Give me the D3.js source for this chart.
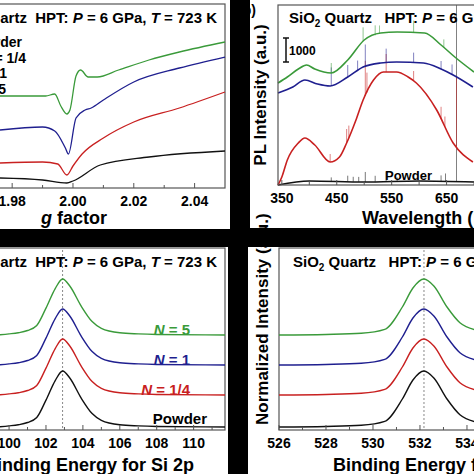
<!DOCTYPE html><html><head><meta charset="utf-8">
<script src="https://cdn.jsdelivr.net/npm/d3@7"></script>
<style>body{margin:0;background:#000}svg{display:block;font-family:"Liberation Sans",Arial,sans-serif;font-weight:bold}</style></head><body>
<svg id="c" width="474" height="474"></svg>
<script>
// ---- Panel (a) EPR ----
const epr_green=[[1.976,92],[1.985,92],[1.991,92],[1.994,94],[1.996,82],[1.998,74],[1.999,78],[2.001,112],[2.0025,118],[2.005,111],[2.008,111],[2.015,118],[2.025,128],[2.035,136],[2.05,146]];
const epr_blue=[[1.976,58],[1.99,61],[1.994,57],[1.9975,40],[1.9985,34],[2.001,70],[2.004,78],[2.006,80],[2.01,88],[2.02,106],[2.035,120],[2.05,131]];
const epr_red=[[1.976,25],[1.99,26],[1.995,24],[1.998,13],[2.0,22],[2.003,34],[2.01,50],[2.02,66],[2.035,80],[2.05,96]];
const epr_black=[[1.976,10],[1.99,8],[1.998,5],[2.0,7],[2.009,23],[2.025,31],[2.05,37]];
const eprTicks=[1.98,2.00,2.02,2.04];
// ---- Panel (b) PL ----
const pl_green=[[343,102],[360,108],[380,116],[395,120],[410,116],[440,112],[470,125],[500,145],[530,152],[560,153],[610,152],[640,140],[665,128],[700,113]];
const pl_blue=[[343,92],[370,98],[392,105],[415,101],[438,99],[470,108],[498,118],[530,122],[559,123],[608,122],[640,116],[662,110],[698,98]];
const pl_red=[[343,0],[350,8],[360,25],[380,42],[392,47],[410,40],[438,23],[455,28],[468,42],[485,65],[498,85],[517,105],[535,113],[559,113],[580,108],[595,102],[632,75],[662,42],[698,23]];
const pl_black=[[343,0],[400,4],[500,3],[600,4],[700,3]];
const pl_spikes_green=[[440,10],[498,14],[520,10],[528,8],[590,12],[645,8]];
const pl_spikes_blue=[[440,18],[470,12],[488,10],[502,22],[540,14],[590,10],[640,8],[660,10]];
const pl_spikes_red=[[438,8],[468,14],[472,12],[502,35],[505,20],[540,18],[590,10],[640,12],[647,10],[668,70]];
const pl_spikes_black=[[440,4],[470,6],[480,5],[490,5],[502,10],[520,6],[540,10],[560,4],[640,6],[648,8],[668,185]];
const plTicks=[350,450,550,650];
// ---- Panels (c),(d) XPS ----
const si_profile=[[99.3,0],[100,0.02],[100.5,0.04],[101,0.08],[101.5,0.17],[102,0.48],[102.5,0.83],[102.9,1],[103.3,0.87],[103.9,0.52],[104.5,0.24],[105,0.12],[106,0.04],[107,0.02],[108,0.01],[111.7,0]];
const o_profile=[[526,0],[528,0.01],[529.5,0.03],[530.5,0.1],[531.25,0.5],[531.7,0.84],[532.17,1],[532.6,0.87],[533.15,0.5],[533.7,0.22],[534.5,0.08],[536,0.02]];
const xps_offsets={green:95,blue:65,red:35,black:3};
const xps_colors={green:"#3a9a3a",blue:"#1f1f8f",red:"#c82020",black:"#111"};
const siTicks=[100,102,104,106,108,110];
const oTicks=[526,528,530,532,534];

const svg=d3.select("#c");
[[0,0,230,229],[250,0,224,228],[0,247,228,227],[248,247,226,227]].forEach(r=>svg.append("rect").attr("x",r[0]).attr("y",r[1]).attr("width",r[2]).attr("height",r[3]).attr("fill","#fff"));

function frame(x0,y0,x1,y1){svg.append("rect").attr("x",x0).attr("y",y0).attr("width",x1-x0).attr("height",y1-y0).attr("fill","none").attr("stroke","#555").attr("stroke-width",1.2);}
function axisX(x,ticks,y,fmt,minor){
  const g=svg.append("g");
  ticks.forEach(t=>{g.append("line").attr("x1",x(t)).attr("x2",x(t)).attr("y1",y).attr("y2",y-5).attr("stroke","#555");
    g.append("text").attr("x",x(t)).attr("y",y+18).attr("text-anchor","middle").attr("font-size",14).text(fmt(t));});
  (minor||[]).forEach(t=>g.append("line").attr("x1",x(t)).attr("x2",x(t)).attr("y1",y).attr("y2",y-3).attr("stroke","#555"));
}
const line=(x,y)=>d3.line().x(d=>x(d[0])).y(d=>y(d[1])).curve(d3.curveMonotoneX);

// Panel a
{const x=d3.scaleLinear().domain([1.976,2.05]).range([0,225]);const y=d3.scaleLinear().domain([0,184]).range([188,4]);
 frame(-2,4,225,188);
 [[epr_black,"#111"],[epr_red,"#c82020"],[epr_blue,"#1f1f8f"],[epr_green,"#3a9a3a"]].forEach(([d,c])=>svg.append("path").attr("d",line(x,y)(d)).attr("fill","none").attr("stroke",c).attr("stroke-width",1.3));
 axisX(x,eprTicks,188,d3.format(".2f"),[1.99,2.01,2.03]);
 svg.append("text").attr("x",74).attr("y",224).attr("text-anchor","middle").attr("font-size",18).html('<tspan font-style="italic">g</tspan> factor');
 svg.append("text").attr("x",217).attr("y",23).attr("text-anchor","end").attr("font-size",15).html('SiO₂ Quartz&#160;&#160;HPT: <tspan font-style="italic">P</tspan> = 6 GPa, <tspan font-style="italic">T</tspan> = 723 K');
 [["Powder",47,22],["N = 1/4",63,26],["N = 1",78,7],["N = 5",94,6]].forEach(l=>svg.append("text").attr("x",l[2]).attr("y",l[1]).attr("text-anchor","end").attr("font-size",14).text(l[0]));
}
// Panel b
{const x=d3.scaleLinear().domain([343,720]).range([278,485]);const y=d3.scaleLinear().domain([0,180]).range([185,5]);
 const pl=[[pl_black,pl_spikes_black,"#111"],[pl_red,pl_spikes_red,"#c82020"],[pl_blue,pl_spikes_blue,"#1f1f8f"],[pl_green,pl_spikes_green,"#3a9a3a"]];
 const interp=(d,w)=>{for(let i=1;i<d.length;i++)if(w<=d[i][0]){const a=d[i-1],b=d[i];return a[1]+(b[1]-a[1])*(w-a[0])/(b[0]-a[0]);}return d[d.length-1][1];};
 pl.forEach(([d,s,c])=>{svg.append("path").attr("d",line(x,y)(d)).attr("fill","none").attr("stroke",c).attr("stroke-width",1.6);
   s.forEach(p=>{const b=interp(d,p[0]);svg.append("line").attr("x1",x(p[0])).attr("x2",x(p[0])).attr("y1",y(b)).attr("y2",y(Math.min(b+p[1],180))).attr("stroke",c).attr("stroke-width",0.8).attr("opacity",0.7);});});
 frame(278,5,490,185);
 axisX(x,plTicks,185,d3.format("d"),[400,500,600,700]);
 svg.append("text").attr("x",362).attr("y",224).attr("font-size",18).text("Wavelength (nm)");
 svg.append("text").attr("transform","translate(266,95) rotate(-90)").attr("text-anchor","middle").attr("font-size",17).text("PL Intensity (a.u.)");
 svg.append("text").attr("x",238).attr("y",15).attr("font-size",14).text("(b)");
 svg.append("text").attr("x",289).attr("y",23).attr("font-size",15).html('SiO<tspan font-size="10" dy="4">2</tspan><tspan dy="-4"> Quartz&#160;&#160;&#160;HPT: </tspan><tspan font-style="italic">P</tspan> = 6 GPa');
 svg.append("path").attr("d","M283,38H289M286,38V62M283,62H289").attr("stroke","#111").attr("stroke-width",1.5).attr("fill","none");
 svg.append("text").attr("x",289).attr("y",55).attr("font-size",12).text("1000");
 svg.append("text").attr("x",385).attr("y",180).attr("font-size",13).text("Powder");
}
function xps(profile,x0,x1,domain,ticks,minor,label,title,xlabelX){
 const x=d3.scaleLinear().domain(domain).range([x0,x1]);const y=d3.scaleLinear().domain([0,182]).range([430,248]);
 frame(x0,248,x1,430);
 const pk=profile.find(p=>p[1]===1)[0];
 svg.append("line").attr("x1",x(pk)).attr("x2",x(pk)).attr("y1",250).attr("y2",430).attr("stroke","#888").attr("stroke-dasharray","2,2");
 ["black","red","blue","green"].forEach(k=>svg.append("path").attr("d",line(x,y)(profile.map(p=>[p[0],xps_offsets[k]+56*p[1]]))).attr("fill","none").attr("stroke",xps_colors[k]).attr("stroke-width",1.4));
 axisX(x,ticks,430,d3.format("d"),minor);
 svg.append("text").attr("x",xlabelX).attr("y",471).attr("font-size",18).text(label);
 svg.append("text").attr("x",title[1]).attr("y",267).attr("font-size",15).attr("text-anchor",title[2]).html(title[0]);
}
xps(si_profile,-2,225,[99.4,111.7],siTicks,[101,103,105,107,109,111],"Binding Energy for Si 2p",['SiO₂ Quartz&#160;&#160;HPT: <tspan font-style="italic">P</tspan> = 6 GPa, <tspan font-style="italic">T</tspan> = 723 K',217,"end"],-16);
xps(o_profile,279,490,[526,534.98],oTicks,[527,529,531,533],"Binding Energy for O 1s",['SiO<tspan font-size="10" dy="4">2</tspan><tspan dy="-4"> Quartz&#160;&#160;&#160;HPT: </tspan><tspan font-style="italic">P</tspan> = 6 GPa',293,"start"],333);
[["N = 5","#3a9a3a",335],["N = 1","#1f1f8f",365],["N = 1/4","#c82020",395]].forEach(l=>svg.append("text").attr("x",190).attr("y",l[2]).attr("text-anchor","end").attr("font-size",15).attr("fill",l[1]).html('<tspan font-style="italic">N</tspan>'+l[0].slice(1)));
svg.append("text").attr("x",207).attr("y",424).attr("text-anchor","end").attr("font-size",15).text("Powder");
svg.append("text").attr("transform","translate(268,425) rotate(-90)").attr("font-size",17).text("Normalized Intensity (a.u.)");
</script></body></html>
